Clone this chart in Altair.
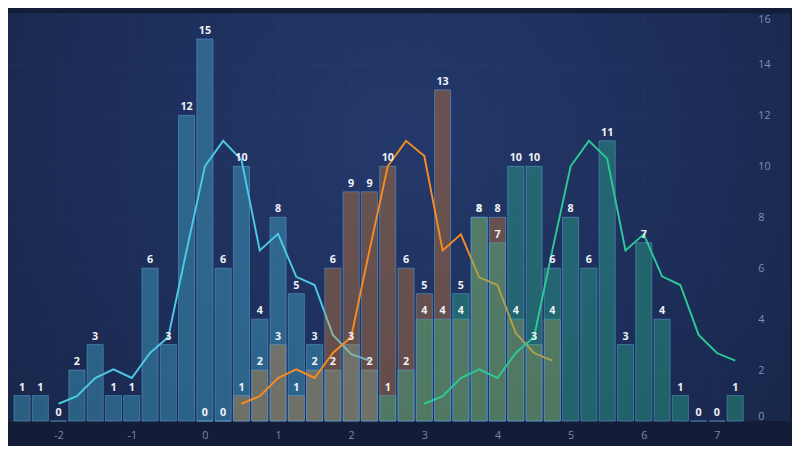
import altair as alt
import pandas as pd

# bin centres (width 0.25) shared by the three overlapping histograms
bin_x = [-2.5, -2.25, -2.0, -1.75, -1.5, -1.25, -1.0, -0.75, -0.5, -0.25,
         0.0, 0.25, 0.5, 0.75, 1.0, 1.25, 1.5, 1.75, 2.0, 2.25,
         2.5, 2.75, 3.0, 3.25, 3.5, 3.75, 4.0, 4.25, 4.5, 4.75,
         5.0, 5.25, 5.5, 5.75, 6.0, 6.25, 6.5, 6.75, 7.0, 7.25]

blue_counts = [1, 1, 0, 2, 3, 1, 1, 6, 3, 12, 15, 6, 10, 4, 8, 5, 3, 2, 3, 2]
orange_counts = [0, 0, 1, 2, 3, 1, 2, 6, 9, 9, 10, 6, 5, 13, 4, 8, 8, 4, 3, 4]
green_counts = [1, 2, 4, 4, 5, 8, 7, 10, 10, 6, 8, 6, 11, 3, 7, 4, 1, 0, 0, 1]

blue_line = [0.68, 0.98, 1.69, 2.03, 1.69, 2.67, 3.3, 6.7, 10.0, 11.0, 10.25, 6.7, 7.35, 5.66, 5.34, 3.38, 2.63, 2.37]
orange_line = [0.68, 0.98, 1.69, 2.03, 1.69, 2.67, 3.3, 6.7, 10.0, 11.0, 10.4, 6.7, 7.33, 5.64, 5.34, 3.45, 2.67, 2.37]
green_line = [0.68, 0.98, 1.69, 2.03, 1.69, 2.67, 3.3, 6.7, 10.0, 11.0, 10.3, 6.7, 7.33, 5.68, 5.34, 3.38, 2.67, 2.37]

x_ticks = [-2, -1, 0, 1, 2, 3, 4, 5, 6, 7]
y_ticks = [0, 2, 4, 6, 8, 10, 12, 14, 16]

W, H = 762, 418

x_enc = alt.X(
    "x:Q",
    scale=alt.Scale(domain=[-2.625, 7.4], nice=False, zero=False),
    axis=alt.Axis(values=x_ticks, title=None, ticks=False, domain=False,
                  labelExpr="'' + datum.value", zindex=1,
                  labelColor="#7d89a8", labelFontSize=11, labelFont="Open Sans",
                  labelPadding=9, grid=True, gridColor="#ffffff", gridOpacity=0.03),
)
y_enc = alt.Y(
    "y:Q",
    scale=alt.Scale(domain=[0, 16], nice=False),
    axis=alt.Axis(values=y_ticks, title=None, orient="right", ticks=False, domain=False,
                  labelFlush=True, zindex=1,
                  labelColor="#8590ad", labelFontSize=11, labelFont="Open Sans",
                  labelPadding=7, grid=True, gridColor="#ffffff", gridOpacity=0.03),
)

# radial glow behind the plot, running on under the right-hand labels
backdrop = (
    alt.Chart(pd.DataFrame({"k": [0]}))
    .mark_rect(
        color=alt.RadialGradient(
            gradient="radial",
            stops=[alt.GradientStop(color="#24396b", offset=0),
                   alt.GradientStop(color="#1c2d58", offset=0.5),
                   alt.GradientStop(color="#16213f", offset=1)],
            x1=0.5, y1=0.4, r1=0, x2=0.5, y2=0.4, r2=0.8,
        )
    )
    .encode(x=alt.value(0), x2=alt.value(W + 40), y=alt.value(0), y2=alt.value(H))
)


def series(xs, counts, line_xs, line_vals, color, opacity):
    bars_df = pd.DataFrame({"x": xs, "y": counts})
    line_df = pd.DataFrame({"x": line_xs, "y": line_vals})
    bars = alt.Chart(bars_df).mark_bar(
        width=16.5, fill=color, fillOpacity=opacity,
        stroke="#5b9bd5", strokeOpacity=0.55, strokeWidth=1,
    ).encode(x=x_enc, y=y_enc)
    line = alt.Chart(line_df).mark_line(color=color, strokeWidth=2).encode(x=x_enc, y=y_enc)
    labels = alt.Chart(bars_df).mark_text(
        baseline="bottom", dy=-3, color="#eef2f7", fontSize=11,
        fontWeight="bold", font="Open Sans",
    ).encode(x=x_enc, y=y_enc, text="y:Q")
    return [bars, line], labels


blue_marks, blue_labels = series(bin_x[0:20], blue_counts, bin_x[2:20], blue_line, "#4cc9e6", 0.35)
orange_marks, orange_labels = series(bin_x[10:30], orange_counts, bin_x[12:30], orange_line, "#f58c23", 0.33)
green_marks, green_labels = series(bin_x[20:40], green_counts, bin_x[22:40], green_line, "#2dc896", 0.35)

layers = [backdrop] + blue_marks + orange_marks + green_marks + [blue_labels, orange_labels, green_labels]

chart = (
    alt.layer(*layers)
    .properties(width=W, height=H, padding={"left": 0, "top": 0, "right": 2, "bottom": 0},
                background="#141d38")
    .configure_view(stroke=None)
)

chart.save("out.html", embed_options={"renderer": "svg", "actions": False})
